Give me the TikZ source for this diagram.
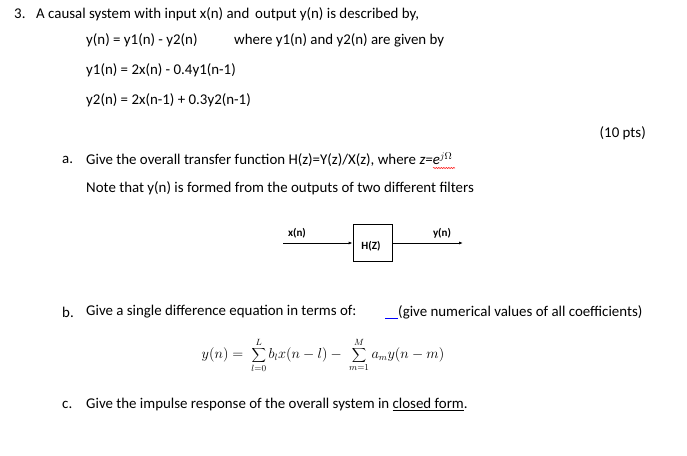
\documentclass[tikz,border=0pt]{standalone}
\usepackage{fontspec}
\setmainfont{Carlito}
\usetikzlibrary{arrows.meta,decorations.pathmorphing}
\begin{document}
\begin{tikzpicture}[x=1pt,y=-1pt,
  txt/.style={anchor=west,inner sep=0pt,font=\fontsize{14.9}{17}\selectfont},
  lbl/.style={inner sep=0pt,font=\bfseries\fontsize{11}{13}\selectfont},
  sig/.style={-{Latex[length=4pt,width=3pt]},line width=0.8pt}]
\useasboundingbox (0,0) rectangle (687,455);
\node[txt] (n3) at (14,14) {3.};
\node[txt] (l1) at (36,14) {A causal system with input x(n) and\, output y(n) is described by,};
\node[txt] (l2) at (86,40) {y(n) = y1(n) - y2(n)};
\node[txt] (l2b) at (234,40) {where y1(n) and y2(n) are given by};
\node[txt] (l3) at (86,70) {y1(n) = 2x(n) - 0.4y1(n-1)};
\node[txt] (l4) at (86,100) {y2(n) = 2x(n-1) + 0.3y2(n-1)};
\node[txt,anchor=east] (pts) at (646,133) {(10 pts)};
\node[txt] (a) at (62,160) {a.};
\node[txt] (la) at (86,160) {Give the overall transfer function H(z)=Y(z)/X(z), where \textit{z=e}$^{j\Omega}$};
\draw[red,line width=0.5pt,decorate,decoration={snake,amplitude=0.6pt,segment length=2.5pt}] (433,168) -- (455,168);
\node[txt] (lb2) at (86,188) {Note that y(n) is formed from the outputs of two different filters};
\node[draw,line width=0.8pt,minimum width=39pt,minimum height=37pt,inner sep=0pt] (H) at (372.5,242.5) {};
\node[lbl] (Ht) at (371,246) {H(Z)};
\coordinate (xin) at (283,243);
\coordinate (yout) at (463,243);
\draw[sig] (xin) -- (H.west|-xin);
\draw[sig] (H.east|-xin) -- (yout);
\node[lbl] (xl) at (297,233) {x(n)};
\node[lbl] (yl) at (442,233) {y(n)};
\node[txt] (b) at (62,312) {b.};
\node[txt] (lb) at (86,312) {Give a single difference equation in terms of:};
\draw[blue,line width=0.6pt] (385,318) -- (398,318);
\node[txt] (lbc) at (398,312) {(give numerical values of all coefficients)};
\node[inner sep=0pt,font=\fontsize{13.5}{15}\selectfont] (eq) at (323,355)
 {$\displaystyle y(n)=\;\sum_{l=0}^{L} b_l x(n-l)-\;\sum_{m=1}^{M} a_m y(n-m)$};
\node[txt] (c) at (62,405) {c.};
\node[txt] (lc) at (86,405) {Give the impulse response of the overall system in \underline{closed form}.};
\end{tikzpicture}
\end{document}
